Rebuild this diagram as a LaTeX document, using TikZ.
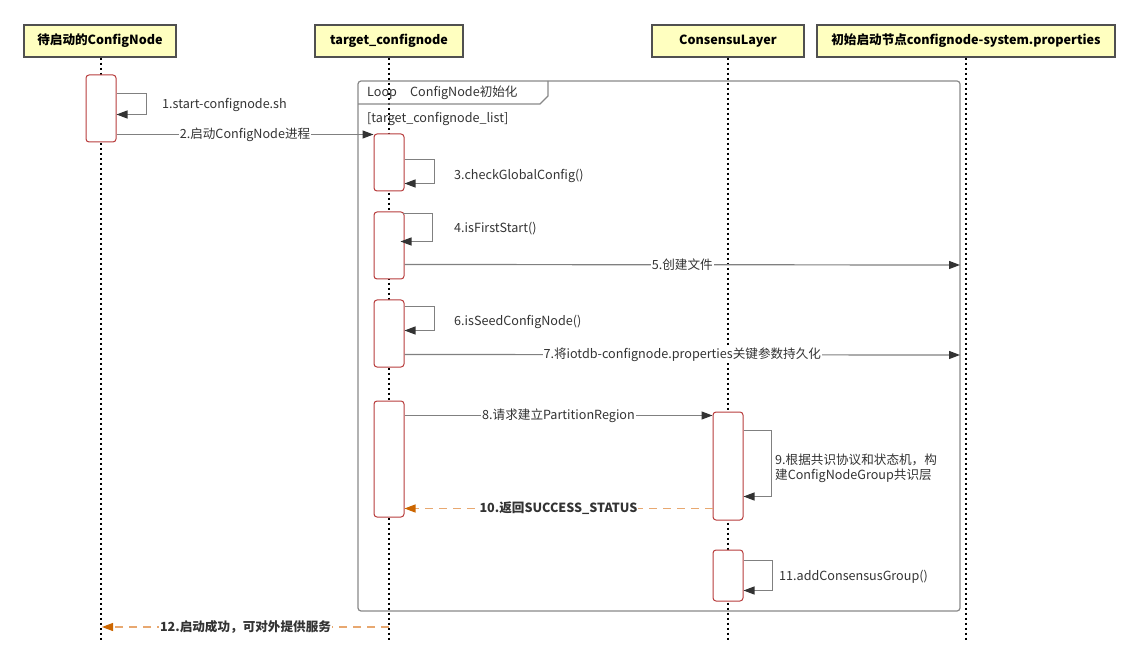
\documentclass[tikz,border=0pt]{standalone}
\usepackage{fontspec}
\setmainfont{Noto Sans CJK SC}
\usetikzlibrary{arrows.meta}
\definecolor{hdrfill}{RGB}{255,255,192}
\definecolor{hdrdraw}{RGB}{80,80,80}
\definecolor{actdraw}{RGB}{184,60,60}
\definecolor{msggray}{RGB}{128,128,128}
\definecolor{headdark}{RGB}{51,51,51}
\definecolor{txt}{RGB}{51,51,51}
\definecolor{retline}{RGB}{232,168,112}
\definecolor{rethead}{RGB}{204,102,0}
\definecolor{framegray}{RGB}{136,136,136}
\tikzset{
  hdr/.style={draw=hdrdraw, fill=hdrfill, line width=1.2pt, minimum height=32pt, inner sep=0pt, font=\fontsize{12.6}{14}\selectfont\bfseries, text=black},
  life/.style={draw=black, line width=1.6pt, dash pattern=on 2.5pt off 2.5pt},
  act/.style={draw=actdraw, fill=white, line width=1pt, rounded corners=3pt, minimum width=30pt, inner sep=0pt},
  msg/.style={draw=msggray, line width=1.2pt, -{Triangle[length=11pt,width=8pt,color=headdark]}},
  ret/.style={draw=retline, line width=1.2pt, dash pattern=on 8pt off 6pt, -{Triangle[length=11pt,width=8pt,color=rethead]}},
  lbl/.style={font=\fontsize{12.6}{15}\selectfont, text=txt, inner sep=1pt},
  onl/.style={lbl, fill=white},
  frm/.style={draw=framegray, line width=1.2pt},
}
\begin{document}
\begin{tikzpicture}[x=1pt,y=-1pt]
\useasboundingbox (0,0) rectangle (1138,668);
% headers
\node[hdr, minimum width=152pt] (h1) at (100,41) {待启动的ConfigNode};
\node[hdr, minimum width=148pt] (h2) at (389,41) {target\_confignode};
\node[hdr, minimum width=152pt] (h3) at (728,41) {ConsensuLayer};
\node[hdr, minimum width=298pt] (h4) at (966,41) {初始启动节点confignode-system.properties};
% lifeline ends
\coordinate (e1) at (101,642);
\coordinate (e2) at (389,642);
\coordinate (e3) at (728,642);
\coordinate (e4) at (966,642);
\draw[life] (h1.south -| e1) -- (e1);
\draw[life] (h2.south -| e2) -- (e2);
\draw[life] (h3.south -| e3) -- (e3);
\draw[life] (h4.south -| e4) -- (e4);
% loop frame
\draw[frm, rounded corners=3pt] (358,81) rectangle (960,611);
\draw[frm] (358,104) -- (540,104) -- (548,96) -- (548,81);
\node[lbl, anchor=west] (lp) at (366,93) {Loop};
\node[lbl, anchor=west] (lpt) at (409,93) {ConfigNode初始化};
\node[lbl, anchor=west] (grd) at (366,119) {[target\_confignode\_list]};
% activations
\node[act, minimum height=67pt] (a0) at (101,108.5) {};
\node[act, minimum height=57pt] (a1) at (389,162.5) {};
\node[act, minimum height=67pt] (a2) at (389,245.5) {};
\node[act, minimum height=67pt] (a3) at (389,333.5) {};
\node[act, minimum height=116pt] (a4) at (389,459) {};
\node[act, minimum height=108pt] (b1) at (728,466) {};
\node[act, minimum height=51pt] (b2) at (728,575.5) {};
% 1
\draw[msg] ([yshift=-19pt]a0.north east) -- ++(30,0) -- ++(0,21) -- ++(-30,0);
\node[lbl, anchor=west] (t1) at (161,105) {1.start-confignode.sh};
% 2
\draw[msg] ([yshift=-60pt]a0.north east) -- node[onl] (t2) {2.启动ConfigNode进程} ([yshift=-1pt]a1.north west);
% 3
\draw[msg] ([yshift=-26pt]a1.north east) -- ++(30,0) -- ++(0,24) -- ++(-30,0);
\node[lbl, anchor=west] (t3) at (453,176) {3.checkGlobalConfig()};
% 4
\draw[msg] ([yshift=-2pt,xshift=-2pt]a2.north east) -- ++(30,0) -- ++(0,28) -- ++(-32,0);
\node[lbl, anchor=west] (t4) at (453,229) {4.isFirstStart()};
% 5
\coordinate (p5) at (960,265);
\draw[msg] ([yshift=-53pt]a2.north east) -- node[onl] (t5) {5.创建文件} (p5);
% 6
\draw[msg] ([yshift=-7pt]a3.north east) -- ++(30,0) -- ++(0,24) -- ++(-30,0);
\node[lbl, anchor=west] (t6) at (453,322) {6.isSeedConfigNode()};
% 7
\coordinate (p7) at (960,355);
\draw[msg] ([yshift=-55pt]a3.north east) -- node[onl] (t7) {7.将iotdb-confignode.properties关键参数持久化} (p7);
% 8
\draw[msg] ([yshift=-15pt]a4.north east) -- node[onl] (t8) {8.请求建立PartitionRegion} ([yshift=-4pt]b1.north west);
% 9
\draw[msg] ([yshift=-19pt]b1.north east) -- ++(28,0) -- ++(0,66) -- ++(-28,0);
\node[lbl, anchor=west, align=left] (t9) at (774,468) {9.根据共识协议和状态机，构\\建ConfigNodeGroup共识层};
% 10
\draw[ret] ([yshift=-97pt]b1.north west) -- node[onl, font=\fontsize{12.6}{15}\selectfont\bfseries] (t10) {10.返回SUCCESS\_STATUS} ([yshift=-108pt]a4.north east);
% 11
\draw[msg] ([yshift=-11pt]b2.north east) -- ++(29,0) -- ++(0,30) -- ++(-29,0);
\node[lbl, anchor=west] (t11) at (778,577) {11.addConsensusGroup()};
% 12
\coordinate (s12) at (389,627);
\coordinate (d12) at (102,627);
\draw[ret] (s12) -- node[onl, font=\fontsize{12.6}{15}\selectfont\bfseries, pos=0.5] (t12) {12.启动成功，可对外提供服务} (d12);
\end{tikzpicture}
\end{document}
